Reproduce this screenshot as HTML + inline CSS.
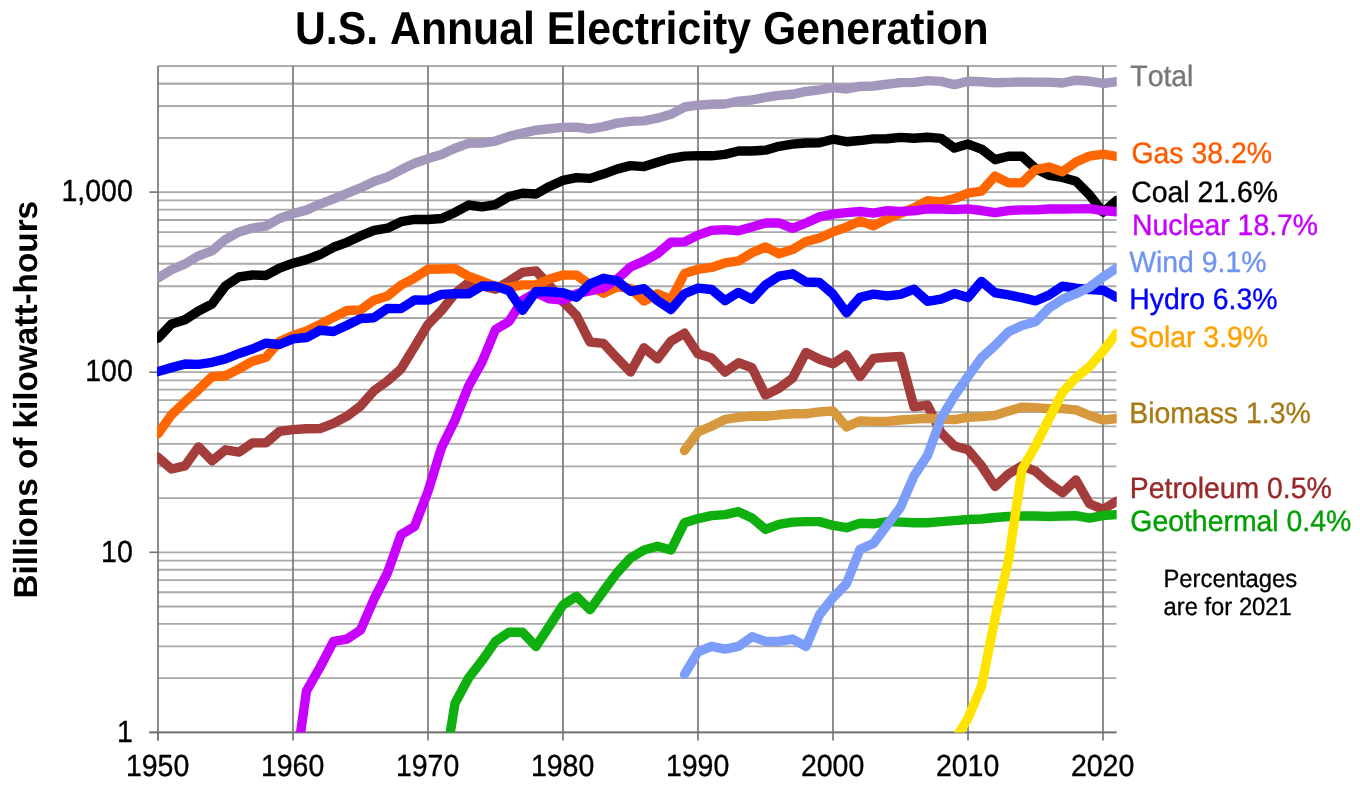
<!DOCTYPE html>
<html><head><meta charset="utf-8"><style>
html,body{margin:0;padding:0;background:#fff;width:1360px;height:786px;overflow:hidden}
svg{display:block;font-family:"Liberation Sans",sans-serif;font-kerning:none;will-change:transform}
text{text-rendering:geometricPrecision}
</style></head><body>
<svg width="1360" height="786" viewBox="0 0 1360 786">
<rect width="1360" height="786" fill="#fff"/>
<text transform="translate(295,43.6) scale(1,1.08)" font-size="42.75" font-weight="bold" fill="#000">U.S. Annual Electricity Generation</text>
<text transform="translate(36.6,598.6) rotate(-90)" font-size="33.3" font-weight="bold" fill="#000">Billions of kilowatt-hours</text>
<g stroke="#A9A9A9" stroke-width="1.8"><line x1="158" x2="1116.5" y1="732.40" y2="732.40"/><line x1="158" x2="1116.5" y1="678.18" y2="678.18"/><line x1="158" x2="1116.5" y1="646.47" y2="646.47"/><line x1="158" x2="1116.5" y1="623.97" y2="623.97"/><line x1="158" x2="1116.5" y1="606.52" y2="606.52"/><line x1="158" x2="1116.5" y1="592.25" y2="592.25"/><line x1="158" x2="1116.5" y1="580.20" y2="580.20"/><line x1="158" x2="1116.5" y1="569.75" y2="569.75"/><line x1="158" x2="1116.5" y1="560.54" y2="560.54"/><line x1="158" x2="1116.5" y1="552.30" y2="552.30"/><line x1="158" x2="1116.5" y1="498.08" y2="498.08"/><line x1="158" x2="1116.5" y1="466.37" y2="466.37"/><line x1="158" x2="1116.5" y1="443.87" y2="443.87"/><line x1="158" x2="1116.5" y1="426.42" y2="426.42"/><line x1="158" x2="1116.5" y1="412.15" y2="412.15"/><line x1="158" x2="1116.5" y1="400.10" y2="400.10"/><line x1="158" x2="1116.5" y1="389.65" y2="389.65"/><line x1="158" x2="1116.5" y1="380.44" y2="380.44"/><line x1="158" x2="1116.5" y1="372.20" y2="372.20"/><line x1="158" x2="1116.5" y1="317.98" y2="317.98"/><line x1="158" x2="1116.5" y1="286.27" y2="286.27"/><line x1="158" x2="1116.5" y1="263.77" y2="263.77"/><line x1="158" x2="1116.5" y1="246.32" y2="246.32"/><line x1="158" x2="1116.5" y1="232.05" y2="232.05"/><line x1="158" x2="1116.5" y1="220.00" y2="220.00"/><line x1="158" x2="1116.5" y1="209.55" y2="209.55"/><line x1="158" x2="1116.5" y1="200.34" y2="200.34"/><line x1="158" x2="1116.5" y1="192.10" y2="192.10"/><line x1="158" x2="1116.5" y1="137.88" y2="137.88"/><line x1="158" x2="1116.5" y1="106.17" y2="106.17"/><line x1="158" x2="1116.5" y1="83.67" y2="83.67"/><line x1="158" x2="1116.5" y1="66.22" y2="66.22"/><line x1="158" x2="1116.5" y1="137.88" y2="137.88"/><line x1="158" x2="1116.5" y1="106.17" y2="106.17"/><line x1="158" x2="1116.5" y1="83.67" y2="83.67"/><line x1="158" x2="1116.5" y1="66.22" y2="66.22"/></g>
<g stroke="#7A7A7A" stroke-width="1.7"><line x1="293.00" x2="293.00" y1="66" y2="732.4"/><line x1="428.00" x2="428.00" y1="66" y2="732.4"/><line x1="563.00" x2="563.00" y1="66" y2="732.4"/><line x1="698.00" x2="698.00" y1="66" y2="732.4"/><line x1="833.00" x2="833.00" y1="66" y2="732.4"/><line x1="968.00" x2="968.00" y1="66" y2="732.4"/><line x1="1103.00" x2="1103.00" y1="66" y2="732.4"/></g>
<g stroke="#707070" stroke-width="1.6">
<line x1="158" x2="158" y1="66" y2="740.5"/>
<line x1="149.3" x2="1116.5" y1="732.4" y2="732.4"/>
<line x1="158.00" x2="158.00" y1="732.4" y2="740.5"/><line x1="293.00" x2="293.00" y1="732.4" y2="740.5"/><line x1="428.00" x2="428.00" y1="732.4" y2="740.5"/><line x1="563.00" x2="563.00" y1="732.4" y2="740.5"/><line x1="698.00" x2="698.00" y1="732.4" y2="740.5"/><line x1="833.00" x2="833.00" y1="732.4" y2="740.5"/><line x1="968.00" x2="968.00" y1="732.4" y2="740.5"/><line x1="1103.00" x2="1103.00" y1="732.4" y2="740.5"/><line x1="149.3" x2="158" y1="732.40" y2="732.40"/><line x1="149.3" x2="158" y1="552.30" y2="552.30"/><line x1="149.3" x2="158" y1="372.20" y2="372.20"/><line x1="149.3" x2="158" y1="192.10" y2="192.10"/>
</g>
<defs><clipPath id="pc"><rect x="157" y="60" width="959.7" height="672.4"/></clipPath></defs>
<g clip-path="url(#pc)" fill="none" stroke-width="9.4" stroke-linejoin="round" stroke-linecap="round"><path d="M158.00,277.85 L171.50,269.72 L185.00,263.93 L198.50,255.84 L212.00,250.87 L225.50,239.29 L239.00,231.99 L252.50,228.05 L266.00,226.10 L279.50,218.51 L293.00,213.65 L306.50,210.12 L320.00,204.07 L333.50,198.89 L347.00,193.33 L360.50,187.89 L374.00,181.55 L387.50,176.91 L401.00,169.83 L414.50,163.28 L428.00,158.58 L441.50,154.56 L455.00,148.20 L468.50,143.39 L482.00,143.13 L495.50,141.04 L509.00,136.42 L522.50,133.17 L536.00,130.21 L549.50,128.76 L563.00,127.42 L576.50,127.12 L590.00,128.98 L603.50,126.60 L617.00,123.09 L630.50,121.38 L644.00,120.83 L657.50,118.21 L671.00,114.29 L684.50,107.03 L698.00,105.19 L711.50,104.27 L725.00,104.01 L738.50,101.19 L752.00,99.97 L765.50,97.46 L779.00,95.37 L792.50,94.29 L806.00,91.47 L819.50,89.88 L833.00,87.64 L846.50,89.00 L860.00,86.49 L873.50,85.99 L887.00,84.25 L900.50,82.59 L914.00,82.41 L927.50,80.66 L941.00,81.37 L954.50,84.65 L968.00,81.26 L981.50,81.74 L995.00,82.74 L1008.50,82.39 L1022.00,81.86 L1035.50,82.17 L1049.00,82.18 L1062.50,83.00 L1076.00,80.22 L1089.50,81.20 L1103.00,83.49 L1116.50,81.59" stroke="#A497BC"/><path d="M158.00,338.17 L171.50,324.00 L185.00,319.80 L198.50,310.96 L212.00,304.02 L225.50,285.91 L239.00,276.83 L252.50,275.02 L266.00,275.47 L279.50,268.11 L293.00,263.17 L306.50,259.60 L320.00,254.52 L333.50,247.28 L347.00,242.32 L360.50,235.94 L374.00,230.31 L387.50,228.18 L401.00,221.70 L414.50,219.33 L428.00,219.51 L441.50,218.55 L455.00,212.43 L468.50,205.02 L482.00,206.82 L495.50,204.55 L509.00,196.57 L522.50,193.27 L536.00,194.02 L549.50,186.44 L563.00,180.38 L576.50,177.63 L590.00,178.36 L603.50,174.06 L617.00,169.11 L630.50,165.67 L644.00,166.58 L657.50,162.30 L671.00,158.29 L684.50,156.13 L698.00,155.63 L711.50,155.80 L725.00,154.31 L738.50,151.05 L752.00,151.03 L765.50,150.16 L779.00,146.33 L792.50,144.19 L806.00,143.00 L819.50,142.68 L833.00,139.21 L846.50,141.74 L860.00,140.55 L873.50,138.92 L887.00,138.74 L900.50,137.38 L914.00,138.26 L927.50,137.24 L941.00,138.44 L954.50,148.07 L968.00,144.10 L981.50,149.07 L995.00,159.66 L1008.50,156.27 L1022.00,156.24 L1035.50,168.49 L1049.00,175.33 L1062.50,177.46 L1076.00,181.20 L1089.50,194.89 L1103.00,212.20 L1116.50,200.52" stroke="#000000"/><path d="M158.00,457.27 L171.50,469.02 L185.00,465.85 L198.50,446.86 L212.00,460.84 L225.50,449.76 L239.00,452.11 L252.50,442.90 L266.00,442.90 L279.50,431.42 L293.00,429.61 L306.50,428.80 L320.00,428.64 L333.50,423.35 L347.00,416.17 L360.50,406.14 L374.00,390.74 L387.50,381.05 L401.00,368.91 L414.50,346.84 L428.00,324.42 L441.50,310.46 L455.00,293.50 L468.50,282.63 L482.00,286.04 L495.50,289.17 L509.00,281.22 L522.50,272.40 L536.00,270.95 L549.50,285.36 L563.00,301.79 L576.50,315.52 L590.00,342.17 L603.50,343.41 L617.00,358.07 L630.50,372.04 L644.00,347.81 L657.50,358.92 L671.00,341.06 L684.50,333.27 L698.00,353.81 L711.50,358.07 L725.00,372.04 L738.50,362.78 L752.00,367.72 L765.50,395.12 L779.00,388.30 L792.50,378.21 L806.00,352.40 L819.50,359.19 L833.00,363.90 L846.50,354.81 L860.00,376.54 L873.50,358.33 L887.00,357.23 L900.50,356.52 L914.00,406.86 L927.50,405.06 L941.00,432.60 L954.50,446.05 L968.00,449.76 L981.50,465.85 L995.00,486.48 L1008.50,474.03 L1022.00,465.85 L1035.50,471.21 L1049.00,483.17 L1062.50,492.79 L1076.00,480.01 L1089.50,503.76 L1103.00,509.43 L1116.50,501.28" stroke="#A43C3C"/><path d="M293.00,999.22 L306.50,912.50 L320.00,912.50 L333.50,858.28 L347.00,858.28 L360.50,858.28 L374.00,858.28 L387.50,826.57 L401.00,804.07 L414.50,772.35 L428.00,786.62 L441.50,786.62 L455.00,703.34 L468.50,678.18 L482.00,660.73 L495.50,641.42 L509.00,632.21 L522.50,632.21 L536.00,646.47 L549.50,625.95 L563.00,604.97 L576.50,596.27 L590.00,609.71 L603.50,590.96 L617.00,572.74 L630.50,557.98 L644.00,549.99 L657.50,546.28 L671.00,549.99 L684.50,522.70 L698.00,518.53 L711.50,515.68 L725.00,514.57 L738.50,511.72 L752.00,518.02 L765.50,529.41 L779.00,524.32 L792.50,522.17 L806.00,521.64 L819.50,521.64 L833.00,525.43 L846.50,527.68 L860.00,523.24 L873.50,523.78 L887.00,521.64 L900.50,522.17 L914.00,522.70 L927.50,522.70 L941.00,521.64 L954.50,520.59 L968.00,519.55 L981.50,519.04 L995.00,517.52 L1008.50,516.52 L1022.00,516.03 L1035.50,516.03 L1049.00,516.52 L1062.50,516.03 L1076.00,515.68 L1089.50,518.02 L1103.00,515.54 L1116.50,514.57" stroke="#0FAF0F"/><path d="M684.50,450.60 L698.00,431.92 L711.50,426.26 L725.00,419.39 L738.50,417.41 L752.00,416.03 L765.50,416.30 L779.00,414.81 L792.50,413.74 L806.00,413.74 L819.50,411.89 L833.00,410.99 L846.50,426.89 L860.00,420.83 L873.50,421.42 L887.00,421.42 L900.50,419.96 L914.00,419.10 L927.50,418.25 L941.00,418.96 L954.50,419.67 L968.00,417.41 L981.50,416.58 L995.00,415.35 L1008.50,410.99 L1022.00,407.12 L1035.50,407.60 L1049.00,408.59 L1062.50,408.59 L1076.00,409.84 L1089.50,415.48 L1103.00,419.96 L1116.50,418.54" stroke="#D8993E"/><path d="M158.00,433.79 L171.50,414.81 L185.00,401.79 L198.50,389.65 L212.00,376.62 L225.50,375.80 L239.00,368.91 L252.50,361.27 L266.00,357.29 L279.50,341.54 L293.00,335.44 L306.50,331.02 L320.00,324.38 L333.50,317.36 L347.00,310.53 L360.50,309.96 L374.00,300.16 L387.50,296.03 L401.00,285.13 L414.50,278.04 L428.00,269.26 L441.50,269.03 L455.00,268.67 L468.50,276.27 L482.00,281.20 L495.50,286.32 L509.00,287.69 L522.50,284.85 L536.00,284.88 L549.50,278.93 L563.00,275.07 L576.50,275.16 L590.00,284.90 L603.50,293.33 L617.00,286.95 L630.50,288.41 L644.00,301.00 L657.50,293.76 L671.00,299.66 L684.50,273.59 L698.00,269.28 L711.50,267.45 L725.00,262.97 L738.50,260.91 L752.00,252.80 L765.50,246.93 L779.00,253.67 L792.50,249.61 L806.00,241.57 L819.50,237.96 L833.00,231.92 L846.50,227.12 L860.00,221.01 L873.50,225.81 L887.00,218.88 L900.50,213.46 L914.00,207.97 L927.50,200.64 L941.00,201.83 L954.50,198.54 L968.00,193.07 L981.50,191.04 L995.00,176.17 L1008.50,182.90 L1022.00,182.78 L1035.50,169.59 L1049.00,167.00 L1062.50,171.80 L1076.00,162.01 L1089.50,156.04 L1103.00,154.16 L1116.50,156.36" stroke="#FF6600"/><path d="M293.00,786.62 L306.50,690.90 L320.00,667.25 L333.50,641.42 L347.00,639.02 L360.50,630.07 L374.00,599.06 L387.50,572.74 L401.00,534.85 L414.50,526.54 L428.00,491.34 L441.50,447.68 L455.00,420.25 L468.50,386.30 L482.00,361.95 L495.50,329.55 L509.00,321.54 L522.50,300.25 L536.00,292.68 L549.50,298.92 L563.00,300.19 L576.50,293.73 L590.00,290.89 L603.50,287.93 L617.00,279.39 L630.50,267.02 L644.00,261.08 L657.50,253.64 L671.00,242.20 L684.50,241.85 L698.00,235.13 L711.50,230.43 L725.00,229.64 L738.50,230.72 L752.00,226.96 L765.50,223.03 L779.00,222.88 L792.50,228.41 L806.00,222.99 L819.50,216.90 L833.00,214.20 L846.50,212.67 L860.00,211.52 L873.50,213.19 L887.00,210.69 L900.50,211.33 L914.00,210.82 L927.50,208.93 L941.00,208.95 L954.50,209.66 L968.00,208.87 L981.50,210.52 L995.00,212.61 L1008.50,210.64 L1022.00,209.83 L1035.50,209.83 L1049.00,209.00 L1062.50,209.07 L1076.00,208.86 L1089.50,208.64 L1103.00,210.55 L1116.50,211.71" stroke="#C800FF"/><path d="M158.00,371.50 L171.50,367.64 L185.00,364.04 L198.50,364.39 L212.00,362.30 L225.50,358.92 L239.00,353.50 L252.50,349.02 L266.00,343.14 L279.50,344.50 L293.00,338.94 L306.50,337.52 L320.00,330.24 L333.50,331.48 L347.00,325.32 L360.50,318.65 L374.00,317.71 L387.50,308.49 L401.00,308.60 L414.50,299.97 L428.00,300.16 L441.50,294.42 L455.00,293.76 L468.50,293.91 L482.00,286.01 L495.50,286.27 L509.00,290.64 L522.50,310.35 L536.00,291.56 L549.50,291.72 L563.00,292.79 L576.50,297.25 L590.00,283.91 L603.50,278.32 L617.00,280.93 L630.50,291.36 L644.00,288.71 L657.50,300.62 L671.00,309.51 L684.50,293.73 L698.00,288.14 L711.50,289.46 L725.00,300.69 L738.50,292.37 L752.00,299.29 L765.50,284.88 L779.00,276.16 L792.50,273.77 L806.00,281.96 L819.50,282.45 L833.00,294.14 L846.50,312.80 L860.00,297.31 L873.50,294.08 L887.00,295.94 L900.50,294.42 L914.00,289.14 L927.50,301.32 L941.00,299.04 L954.50,293.53 L968.00,297.40 L981.50,281.37 L995.00,292.74 L1008.50,294.92 L1022.00,297.64 L1035.50,300.81 L1049.00,295.15 L1062.50,286.19 L1076.00,288.25 L1089.50,289.49 L1103.00,290.20 L1116.50,297.40" stroke="#0000FF"/><path d="M684.50,674.37 L698.00,651.87 L711.50,646.47 L725.00,649.12 L738.50,646.47 L752.00,636.68 L765.50,641.42 L779.00,641.42 L792.50,639.02 L806.00,646.47 L819.50,614.76 L833.00,597.65 L846.50,583.62 L860.00,549.23 L873.50,543.44 L887.00,525.43 L900.50,507.20 L914.00,475.78 L927.50,455.44 L941.00,418.39 L954.50,395.86 L968.00,376.46 L981.50,357.81 L995.00,345.44 L1008.50,331.71 L1022.00,325.49 L1035.50,321.71 L1049.00,308.08 L1062.50,299.20 L1076.00,293.73 L1089.50,287.35 L1103.00,276.97 L1116.50,268.15" stroke="#7C9EFA"/><path d="M954.50,740.64 L968.00,718.14 L981.50,686.43 L995.00,618.31 L1008.50,560.54 L1022.00,469.29 L1035.50,445.85 L1049.00,418.96 L1062.50,392.34 L1076.00,377.54 L1089.50,366.69 L1103.00,351.26 L1116.50,333.32" stroke="#FFE400"/></g>
<g font-size="28.5" fill="#000" stroke="#000" stroke-width="0.35"><text transform="translate(132.8,741.6) scale(1,1.07)" text-anchor="end">1</text><text transform="translate(132.8,561.5) scale(1,1.07)" text-anchor="end">10</text><text transform="translate(132.8,381.4) scale(1,1.07)" text-anchor="end">100</text><text transform="translate(132.8,201.3) scale(1,1.07)" text-anchor="end">1,000</text><text transform="translate(157.60,775.8) scale(1,1.07)" text-anchor="middle">1950</text><text transform="translate(292.60,775.8) scale(1,1.07)" text-anchor="middle">1960</text><text transform="translate(427.60,775.8) scale(1,1.07)" text-anchor="middle">1970</text><text transform="translate(562.60,775.8) scale(1,1.07)" text-anchor="middle">1980</text><text transform="translate(697.60,775.8) scale(1,1.07)" text-anchor="middle">1990</text><text transform="translate(832.60,775.8) scale(1,1.07)" text-anchor="middle">2000</text><text transform="translate(967.60,775.8) scale(1,1.07)" text-anchor="middle">2010</text><text transform="translate(1102.60,775.8) scale(1,1.07)" text-anchor="middle">2020</text></g>
<g font-size="28.4" stroke-width="0.35"><text transform="translate(1130.3,85.6) scale(1,1.04)" fill="#777777" stroke="#777777">Total</text><text transform="translate(1131.5,163.1) scale(1,1.04)" fill="#FF5A00" stroke="#FF5A00">Gas 38.2%</text><text transform="translate(1131.2,202.2) scale(1,1.04)" fill="#000000" stroke="#000000">Coal 21.6%</text><text transform="translate(1131.9,234.6) scale(1,1.04)" fill="#C800FF" stroke="#C800FF">Nuclear 18.7%</text><text transform="translate(1129.2,271.8) scale(1,1.04)" fill="#6F95F0" stroke="#6F95F0">Wind 9.1%</text><text transform="translate(1129.2,308.7) scale(1,1.04)" fill="#0000FF" stroke="#0000FF">Hydro 6.3%</text><text transform="translate(1129.2,346.9) scale(1,1.04)" fill="#FFA000" stroke="#FFA000">Solar 3.9%</text><text transform="translate(1129.2,423.3) scale(1,1.04)" fill="#A87A14" stroke="#A87A14">Biomass 1.3%</text><text transform="translate(1129.8,497.8) scale(1,1.04)" fill="#992828" stroke="#992828">Petroleum 0.5%</text><text transform="translate(1130.3,530.9) scale(1,1.04)" fill="#00A000" stroke="#00A000">Geothermal 0.4%</text></g>
<g font-size="23.8" fill="#000" stroke="#000" stroke-width="0.3">
<text transform="translate(1163.5,587.3) scale(1,1.05)">Percentages</text>
<text transform="translate(1163.5,614.6) scale(1,1.05)">are for 2021</text>
</g>
</svg>
</body></html>
